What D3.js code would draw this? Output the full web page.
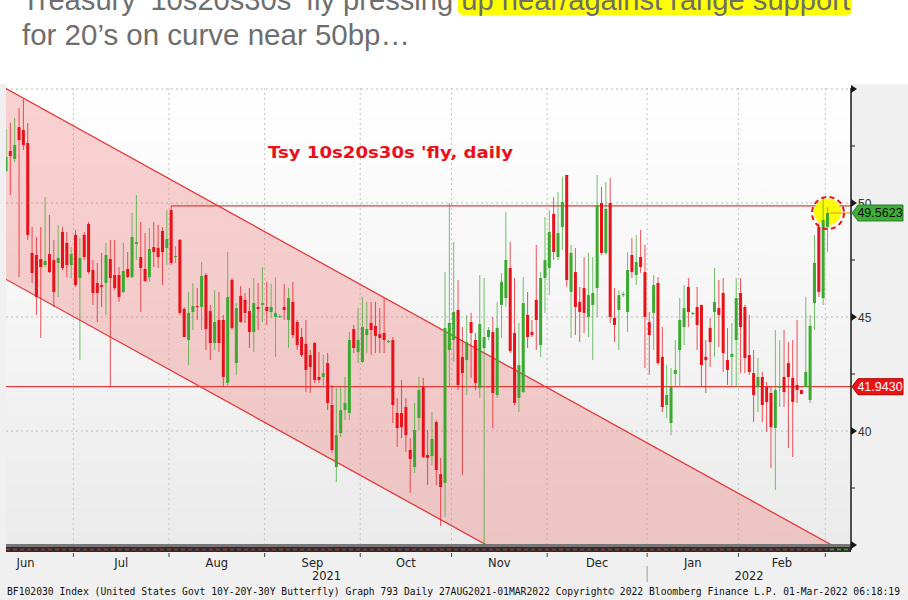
<!DOCTYPE html>
<html><head><meta charset="utf-8">
<script src="https://cdn.jsdelivr.net/npm/d3@7"></script>
<style>html,body{margin:0;padding:0;background:#fff;} svg{display:block;}</style>
</head><body>
<svg id="chart" width="908" height="600"></svg>
<script>
// ---------------- DATA ----------------
const startDate = "2021-06-09"; // first daily bar (weekdays)
const open = [51.40,52.28,51.93,53.33,53.20,52.63,47.81,47.72,47.54,47.28,
47.76,47.50,47.37,48.73,48.25,47.28,48.60,46.71,48.60,49.08,
47.06,46.49,46.40,46.49,47.54,46.84,46.84,46.10,47.11,46.75,
48.20,47.63,47.11,46.75,48.07,48.03,48.77,48.03,49.69,47.63,
48.38,45.35,43.99,45.22,45.48,45.44,46.84,45.26,43.86,44.87,
44.87,42.11,46.62,42.98,45.92,45.75,45.26,44.34,45.44,45.53,
45.44,45.22,45.00,45.00,45.44,44.87,45.66,44.78,44.12,43.82,
43.33,43.86,42.37,42.37,42.98,41.14,38.42,39.91,40.92,40.79,
44.47,43.46,43.03,44.21,44.74,44.61,44.25,44.30,43.90,43.99,
40.79,40.79,41.05,39.17,38.42,40.57,41.93,38.95,38.90,40.39,
38.11,37.72,43.55,43.99,45.31,43.25,43.11,44.78,43.99,41.89,
43.64,44.12,44.34,41.58,45.53,45.83,47.15,44.30,41.45,41.71,
45.09,44.34,45.75,43.77,46.71,47.15,49.52,47.63,48.95,51.23,
46.10,46.97,45.66,46.27,45.00,45.53,46.27,50.00,47.81,50.00,
44.96,45.31,45.96,45.22,47.72,46.84,47.63,46.97,44.78,45.18,
46.49,43.25,41.14,40.35,42.50,43.55,44.56,46.32,45.13,45.44,
45.53,43.25,44.52,45.22,45.39,46.05,43.11,43.25,43.99,46.05,
45.44,43.33,42.54,41.93,42.37,41.93,41.67,40.13,41.89,42.37,
42.98,42.33,42.02,41.80,41.93,41.36,45.61,48.95,45.83,48.95];
const high = [53.25,53.51,53.73,54.17,54.56,53.51,48.95,48.51,48.95,50.26,
49.47,48.38,49.04,48.95,48.73,48.07,48.82,48.46,48.73,49.17,
47.50,47.37,47.81,48.25,48.38,48.38,47.19,48.25,47.85,49.56,
50.35,49.17,48.68,48.90,49.17,49.04,48.95,49.69,49.87,48.11,
48.42,45.44,46.10,46.49,46.27,47.41,46.93,45.53,46.18,46.10,
45.09,47.85,46.71,45.61,46.36,46.05,46.27,46.71,46.49,47.19,
46.54,46.45,46.75,45.13,46.45,46.27,46.54,44.87,44.52,44.87,
43.55,43.90,43.46,43.33,43.42,42.02,41.89,41.93,42.37,44.34,
44.65,45.39,45.88,45.66,45.66,45.66,45.39,45.83,43.99,44.12,
41.45,42.24,41.45,39.69,41.23,42.37,42.33,40.04,40.83,40.48,
38.82,46.97,50.00,48.29,46.62,44.56,45.09,45.18,44.30,46.84,
46.71,44.56,45.00,45.66,46.93,49.61,48.29,46.71,44.74,46.75,
46.10,44.87,48.16,46.97,49.39,49.69,50.26,50.48,51.14,51.23,
48.16,48.03,46.32,47.63,47.81,47.63,51.23,50.70,50.92,51.10,
46.27,46.18,46.10,47.85,48.46,48.60,48.82,48.16,45.22,46.84,
46.75,44.56,42.89,42.76,43.99,45.83,46.40,46.71,45.22,46.32,
45.53,43.99,44.96,47.15,46.62,46.71,44.52,44.74,46.71,46.71,
45.53,45.09,43.55,43.20,42.59,42.15,41.93,44.43,43.99,44.43,
43.90,43.99,44.87,41.80,45.88,45.09,48.60,49.12,50.26,49.82];
const low = [51.36,50.35,51.80,46.75,52.32,48.38,46.49,45.09,44.08,47.19,
46.93,45.44,45.88,47.06,46.75,46.71,46.32,43.11,47.50,46.89,
45.53,44.78,45.44,45.09,41.943,46.18,45.66,46.05,46.71,46.71,
47.50,45.22,46.54,46.54,47.19,47.15,46.40,47.28,47.28,47.37,
45.09,44.12,42.89,44.43,44.87,44.43,43.55,43.11,43.55,43.46,
41.93,41.93,44.43,42.46,44.74,44.74,43.64,43.46,44.43,44.78,
44.65,44.96,43.25,44.96,44.87,43.64,44.08,43.55,43.25,41.71,
41.67,42.11,42.11,41.89,40.92,39.04,37.76,39.74,40.48,40.48,
43.42,42.98,42.98,43.42,43.33,43.42,43.42,43.42,43.86,40.35,
39.30,39.69,39.08,37.29,38.16,40.04,38.82,37.63,38.51,37.63,
35.83,36.23,41.93,43.03,41.80,38.07,41.58,42.33,41.80,41.45,
35.09,43.99,40.13,41.45,44.08,45.44,43.42,41.14,40.83,41.67,
43.64,44.12,43.55,43.25,45.18,45.96,47.50,47.50,47.94,46.32,
44.08,44.21,43.90,44.30,44.12,43.11,45.00,47.72,47.72,44.74,
43.90,43.55,45.88,44.34,46.71,46.40,46.93,42.76,42.46,43.55,
42.89,40.83,40.57,39.82,41.93,41.93,43.77,44.56,45.09,43.55,
41.93,41.67,42.81,43.25,43.68,42.59,42.02,41.93,41.93,42.54,
42.54,42.46,40.39,40.83,40.39,39.96,38.38,37.41,41.05,41.05,
39.25,38.86,41.23,41.62,41.93,41.23,44.43,45.88,45.53,47.85];
const close = [52.02,52.06,52.54,52.76,52.54,48.60,46.93,45.88,47.19,47.46,
46.97,46.10,47.59,47.15,47.28,47.76,46.40,47.59,47.63,46.97,
46.05,46.05,46.32,47.72,46.71,46.27,45.88,47.02,46.75,48.51,
48.29,47.15,46.58,47.98,47.85,47.63,47.85,48.42,47.37,47.68,
45.18,44.12,45.18,45.48,45.44,46.80,44.47,43.86,44.78,43.86,
42.37,45.88,44.52,45.39,44.78,45.18,44.34,45.61,45.35,45.61,
45.26,45.44,45.18,45.04,45.31,45.83,44.21,43.77,43.33,42.68,
42.81,42.24,42.24,42.54,41.23,39.17,39.82,40.92,41.23,43.99,
43.64,43.99,44.56,44.47,44.43,44.17,44.08,43.99,43.95,41.14,
40.13,40.17,39.82,38.77,40.04,41.80,38.86,38.82,39.65,38.29,
37.54,44.52,44.74,45.22,42.02,42.54,43.90,44.30,42.11,44.69,
44.12,44.43,41.67,44.52,46.54,47.50,43.51,41.23,42.89,45.61,
44.12,44.21,44.87,46.71,47.50,48.73,47.85,48.68,50.04,46.62,
47.81,45.44,45.22,45.18,45.96,46.05,49.91,47.81,49.74,45.00,
44.65,45.96,46.01,47.06,46.97,47.41,47.19,45.00,44.21,46.40,
42.98,41.05,41.58,41.93,42.68,44.87,45.39,45.22,45.18,44.65,
42.89,43.11,43.90,45.66,45.09,43.42,42.68,43.38,45.83,44.56,
43.20,42.59,41.58,42.37,41.14,41.27,40.17,41.80,41.97,41.71,
42.37,41.27,41.80,41.62,42.59,44.61,47.37,46.10,49.25,49.5623];

const monthLabels = ["Jun","Jul","Aug","Sep","Oct","Nov","Dec","Jan","Feb"];
const monthStarts = ["2021-06-01","2021-07-01","2021-08-01","2021-09-01","2021-10-01",
                     "2021-11-01","2021-12-01","2022-01-01","2022-02-01","2022-03-01"];
const yearLabels = ["2021","2022"];
const yearStart2022 = "2022-01-01";
const yMajorTicks = [35, 40, 45, 50, 55];
const yTickLabels = ["", "40", "45", "50", ""];
const yMinorTicks = [37.5, 42.5, 47.5, 52.5];
const supportLevel = 41.943;
const resistanceLevel = 49.87;
const resistanceStartIndex = 38;
const channelUpper = [[0, 55.02], [189, 35.10]];
const channelLower = [[0, 46.65], [189, 26.73]];
const chartTitle = "Tsy 10s20s30s 'fly, daily";
const headline1a = "Treasury \u201810s20s30s \u2019fly pressing ";
const headline1b = "up near/against range support";
const headline2 = "for 20\u2019s on curve near 50bp\u2026";
const footer = "BF102030 Index (United States Govt 10Y-20Y-30Y Butterfly) Graph 793  Daily 27AUG2021-01MAR2022 Copyright\u00a9 2022 Bloomberg Finance L.P. 01-Mar-2022 06:18:19";

// ---------------- HELPERS ----------------
const parse = d3.timeParse("%Y-%m-%d");
const start = parse(startDate);
const isWd = d => d.getDay() !== 0 && d.getDay() !== 6;
function wdIndex(d) {
  if (d >= start) return d3.timeDay.range(start, d).filter(isWd).length;
  return -d3.timeDay.range(d, start).filter(isWd).length;
}
const N = open.length;
const bars = d3.range(N).map(i => ({i, o: open[i], h: high[i], l: low[i], c: close[i]}));
const last = bars[N - 1];

// ---------------- SCALES ----------------
const P = {l: 6, r: 851, t: 88, b: 545};
const x = d3.scaleLinear().domain([0, N - 1]).range([6, 827.5]);
const y = d3.scaleLinear().domain([35, 55]).range([545, 89]);

const svg = d3.select("#chart");
const defs = svg.append("defs");
const grad = defs.append("linearGradient").attr("id", "bg").attr("x1", 0).attr("y1", 0).attr("x2", 0).attr("y2", 1);
grad.append("stop").attr("offset", "0%").attr("stop-color", "#ffffff");
grad.append("stop").attr("offset", "100%").attr("stop-color", "#ebebeb");
defs.append("clipPath").attr("id", "clip").append("rect")
  .attr("x", P.l).attr("y", P.t).attr("width", P.r - P.l).attr("height", P.b - P.t);

// backgrounds
svg.append("rect").attr("width", 908).attr("height", 600).attr("fill", "#ffffff");
svg.append("rect").attr("x", 0).attr("y", 84).attr("width", 908).attr("height", 516).attr("fill", "#f0f0f0");
svg.append("rect").attr("x", P.l).attr("y", 80).attr("width", P.r - P.l).attr("height", P.b - 80).attr("fill", "url(#bg)");

// gridlines
const g = svg.append("g");
const boundaries = monthStarts.map(s => wdIndex(parse(s)) - 0.5);
g.selectAll(".hg").data(yMajorTicks.filter(v => v > 35)).join("line")
  .attr("x1", P.l).attr("x2", P.r).attr("y1", d => y(d)).attr("y2", d => y(d))
  .attr("stroke", "#bdbdbd").attr("stroke-dasharray", "2,3").attr("stroke-width", 1);
g.selectAll(".vg").data(boundaries.filter(b => x(b) > P.l && x(b) < P.r)).join("line")
  .attr("x1", d => x(d)).attr("x2", d => x(d)).attr("y1", P.t).attr("y2", P.b)
  .attr("stroke", "#c4c4c4").attr("stroke-dasharray", "2,3").attr("stroke-width", 1);

// channel
const lineVal = (seg, i) => seg[0][1] + (seg[1][1] - seg[0][1]) * (i - seg[0][0]) / (seg[1][0] - seg[0][0]);
const ch = svg.append("g").attr("clip-path", "url(#clip)");
const i0 = -5, i1 = 205;
ch.append("path")
  .attr("d", `M${x(i0)},${y(lineVal(channelUpper, i0))}L${x(i1)},${y(lineVal(channelUpper, i1))}L${x(i1)},${y(lineVal(channelLower, i1))}L${x(i0)},${y(lineVal(channelLower, i0))}Z`)
  .attr("fill", "#f06a6a").attr("fill-opacity", 0.3);
[channelUpper, channelLower].forEach(seg => {
  ch.append("line").attr("x1", x(i0)).attr("y1", y(lineVal(seg, i0))).attr("x2", x(i1)).attr("y2", y(lineVal(seg, i1)))
    .attr("stroke", "#e23b3b").attr("stroke-width", 1.3);
});
// support / resistance
ch.append("line").attr("x1", P.l).attr("x2", P.r).attr("y1", y(supportLevel)).attr("y2", y(supportLevel))
  .attr("stroke", "#e83a3a").attr("stroke-width", 1.3);
ch.append("line").attr("x1", x(resistanceStartIndex)).attr("x2", P.r).attr("y1", y(resistanceLevel)).attr("y2", y(resistanceLevel))
  .attr("stroke", "#e83a3a").attr("stroke-width", 1.3);

// highlight circle fill
ch.append("circle").attr("cx", x(last.i)).attr("cy", y(last.c) - 1).attr("r", 13.5).attr("fill", "#ffff00");

// candles
const RED = "#e8121a", GREEN = "#3caa30";
const cg = svg.append("g").attr("clip-path", "url(#clip)");
cg.selectAll(".wick").data(bars).join("line")
  .attr("x1", d => x(d.i)).attr("x2", d => x(d.i))
  .attr("y1", d => y(d.h)).attr("y2", d => y(d.l))
  .attr("stroke", d => d.c >= d.o ? GREEN : RED).attr("stroke-opacity", 0.72).attr("stroke-width", 1);
cg.selectAll(".body").data(bars).join("rect")
  .attr("x", d => x(d.i) - 1.5).attr("width", 3)
  .attr("y", d => y(Math.max(d.o, d.c)))
  .attr("height", d => Math.max(1.2, Math.abs(y(d.o) - y(d.c))))
  .attr("fill", d => d.c >= d.o ? GREEN : RED);

// last-price line and dashed circle
svg.append("line").attr("x1", x(last.i) + 2).attr("x2", P.r).attr("y1", y(last.c)).attr("y2", y(last.c))
  .attr("stroke", "#f0a030").attr("stroke-width", 1.2);
svg.append("circle").attr("cx", x(last.i) + 0.5).attr("cy", y(last.c)).attr("r", 16)
  .attr("fill", "none").attr("stroke", "#e8141c").attr("stroke-width", 2).attr("stroke-dasharray", "5,3.5");

// bottom band
svg.append("rect").attr("x", P.l).attr("y", 544).attr("width", P.r - P.l).attr("height", 3).attr("fill", "#767676");
svg.append("rect").attr("x", P.l).attr("y", 547).attr("width", P.r - P.l).attr("height", 5).attr("fill", "#2e2e2e");
svg.append("line").attr("x1", P.l).attr("x2", 828).attr("y1", 549.5).attr("y2", 549.5)
  .attr("stroke", "#d02020").attr("stroke-width", 1.5).attr("stroke-dasharray", "4,3");
svg.append("line").attr("x1", 830).attr("x2", P.r).attr("y1", 549.5).attr("y2", 549.5)
  .attr("stroke", "#3caa30").attr("stroke-width", 1.5).attr("stroke-dasharray", "4,3");

// right axis
const ax = svg.append("g");
ax.append("line").attr("x1", P.r).attr("x2", P.r).attr("y1", P.t).attr("y2", 550).attr("stroke", "#1a1a1a").attr("stroke-width", 1.5);
ax.selectAll(".mt").data(yMajorTicks).join("path")
  .attr("d", d => `M${P.r},${y(d) - 4}L${P.r + 6},${y(d)}L${P.r},${y(d) + 4}Z`).attr("fill", "#1a1a1a");
ax.selectAll(".mn").data(yMinorTicks).join("line")
  .attr("x1", P.r).attr("x2", P.r + 4).attr("y1", d => y(d)).attr("y2", d => y(d)).attr("stroke", "#1a1a1a");
ax.selectAll(".tl").data(yMajorTicks).join("text")
  .attr("x", P.r + 7).attr("y", d => y(d) + 4.5)
  .text((d, i) => yTickLabels[i])
  .attr("font-family", "Liberation Sans, Arial, sans-serif").attr("font-size", 12).attr("fill", "#333");

// price tags
function tag(v, fill, stroke, txtColor) {
  const yy = y(v);
  ax.append("path").attr("d", `M${P.r + 1},${yy}L${P.r + 7},${yy - 8}L903,${yy - 8}L903,${yy + 8}L${P.r + 7},${yy + 8}Z`)
    .attr("fill", fill).attr("stroke", stroke).attr("stroke-width", 1);
  ax.append("text").attr("x", 880).attr("y", yy + 4.5).attr("text-anchor", "middle")
    .attr("font-family", "Liberation Sans, Arial, sans-serif").attr("font-size", 12.5)
    .attr("fill", txtColor).text(d3.format(".4f")(v));
}
tag(last.c, "#3fae38", "#2b7f26", "#111");
tag(supportLevel, "#ec1218", "#b00000", "#ffffff");

// x axis
const xa = svg.append("g");
xa.selectAll(".xt").data(boundaries.filter(b => x(b) > P.l && x(b) <= P.r)).join("line")
  .attr("x1", d => x(d)).attr("x2", d => x(d)).attr("y1", 553).attr("y2", 557).attr("stroke", "#444");
xa.selectAll(".ml").data(monthLabels).join("text")
  .attr("x", (d, i) => x((boundaries[i] + boundaries[i + 1]) / 2)).attr("y", 567)
  .attr("text-anchor", "middle").text(d => d)
  .attr("font-family", "DejaVu Sans, sans-serif").attr("font-size", 11.5).attr("fill", "#222");
const yb = wdIndex(parse(yearStart2022)) - 0.5;
xa.append("line").attr("x1", x(yb)).attr("x2", x(yb)).attr("y1", 566).attr("y2", 582).attr("stroke", "#999");
const yearCenters = [(P.l + x(yb)) / 2, (x(yb) + P.r) / 2];
xa.selectAll(".yl").data(yearLabels).join("text")
  .attr("x", (d, i) => yearCenters[i]).attr("y", 580).attr("text-anchor", "middle").text(d => d)
  .attr("font-family", "DejaVu Sans, sans-serif").attr("font-size", 11.5).attr("fill", "#222");

// footer
svg.append("text").attr("x", 7).attr("y", 595).text(footer)
  .attr("font-family", "DejaVu Sans Mono, monospace").attr("font-size", 9.8).attr("fill", "#111")
  .attr("textLength", 893).attr("lengthAdjust", "spacingAndGlyphs");

// chart title
svg.append("text").attr("x", 268).attr("y", 158).text(chartTitle)
  .attr("font-family", "DejaVu Sans, Verdana, sans-serif").attr("font-weight", "bold").attr("font-size", 15)
  .attr("fill", "#e8101a").attr("textLength", 245).attr("lengthAdjust", "spacingAndGlyphs");

// headline
svg.append("path").attr("d", "M458,0L852,0L852,10Q852,15 846,15L464,15Q458,15 458,10Z").attr("fill", "#ffff00");
const h1 = svg.append("text").attr("x", 22).attr("y", 10)
  .attr("font-family", "Liberation Sans Narrow, Arial Narrow, Liberation Sans, sans-serif").attr("font-size", 29)
  .attr("fill", "#6e6e6e").attr("textLength", 828).attr("lengthAdjust", "spacingAndGlyphs");
h1.append("tspan").text(headline1a);
h1.append("tspan").text(headline1b);
svg.append("text").attr("x", 22).attr("y", 45).text(headline2)
  .attr("font-family", "Liberation Sans Narrow, Arial Narrow, Liberation Sans, sans-serif").attr("font-size", 29)
  .attr("fill", "#6e6e6e").attr("textLength", 388).attr("lengthAdjust", "spacingAndGlyphs");
</script>
</body></html>
